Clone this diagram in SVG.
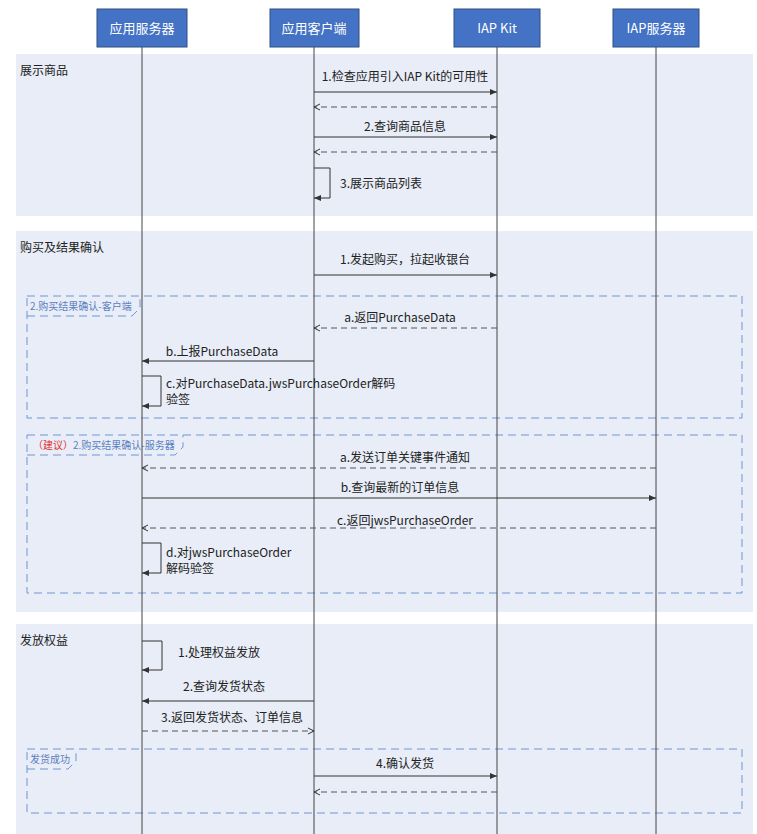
<svg xmlns="http://www.w3.org/2000/svg" width="757" height="834" viewBox="0 0 757 834">
<style>
text{font-family:"Noto Sans CJK SC","Liberation Sans",sans-serif;font-size:12px;fill:#222}
.hd{fill:#4472c4;stroke:#2f4f80;stroke-width:1}
.hdt{fill:#fff;font-size:13px;text-anchor:middle}
.sec{fill:#e8edf7}
.ll{stroke:#444;stroke-width:1}
.m{stroke:#333;stroke-width:1;fill:none;marker-end:url(#a)}
.r{stroke:#555;stroke-width:1;fill:none;stroke-dasharray:6 4;marker-end:url(#o)}
.fr{fill:none;stroke:#6f96d6;stroke-width:1;stroke-dasharray:8 5}
.ft{fill:#5b7fc0;font-size:10px}
.c{text-anchor:middle}
</style>
<defs>
<marker id="a" markerWidth="8" markerHeight="8" refX="7" refY="4" orient="auto" markerUnits="userSpaceOnUse"><path d="M0,1 L7,4 L0,7z" fill="#333"/></marker>
<marker id="o" markerWidth="8" markerHeight="8" refX="7" refY="4" orient="auto" markerUnits="userSpaceOnUse"><path d="M1,1 L7,4 L1,7" fill="none" stroke="#333"/></marker>
</defs>
<rect width="757" height="834" fill="#fff"/>
<rect class="sec" x="16" y="54" width="737" height="162"/>
<rect class="sec" x="16" y="231" width="737" height="381"/>
<rect class="sec" x="16" y="624" width="737" height="210"/>
<text x="20" y="75">展示商品</text>
<text x="20" y="252">购买及结果确认</text>
<text x="20" y="645">发放权益</text>
<g id="frames">
<rect class="fr" x="27" y="296" width="715" height="122"/>
<path class="fr" d="M27,316 H132 L140,308 V296"/>
<text class="ft" x="30" y="310">2.购买结果确认-客户端</text>
<rect class="fr" x="27" y="435" width="715" height="158"/>
<path class="fr" d="M27,455 H175 L183,447 V435"/>
<text class="ft" x="33" y="449"><tspan fill="#e03030">（建议）</tspan>2.购买结果确认-服务器</text>
<rect class="fr" x="27" y="749" width="715" height="64"/>
<path class="fr" d="M27,769 H68 L76,761 V749"/>
<text class="ft" x="30" y="763">发货成功</text>
</g>
<g id="lifelines">
<line class="ll" x1="142" y1="47" x2="142" y2="834"/>
<line class="ll" x1="314" y1="47" x2="314" y2="834"/>
<line class="ll" x1="497" y1="47" x2="497" y2="834"/>
<line class="ll" x1="656" y1="47" x2="656" y2="834"/>
</g>
<g id="n1"><rect class="hd" x="97" y="9" width="90" height="38"/><text class="hdt" x="142" y="33">应用服务器</text></g>
<g id="n2"><rect class="hd" x="270" y="9" width="89" height="38"/><text class="hdt" x="314" y="33">应用客户端</text></g>
<g id="n3"><rect class="hd" x="454" y="9" width="86" height="38"/><text class="hdt" x="497" y="33">IAP Kit</text></g>
<g id="n4"><rect class="hd" x="613" y="9" width="86" height="38"/><text class="hdt" x="656" y="33">IAP服务器</text></g>
<g id="connectors">
<path class="m" d="M314,92 H497"/><text class="c" x="405" y="81">1.检查应用引入IAP Kit的可用性</text>
<path class="r" d="M497,107 H314"/>
<path class="m" d="M314,137 H497"/><text class="c" x="405" y="131">2.查询商品信息</text>
<path class="r" d="M497,152 H314"/>
<path class="m" d="M314,168 H330 V198 H314"/><text x="340" y="188">3.展示商品列表</text>
<path class="m" d="M314,275 H497"/><text class="c" x="405" y="264">1.发起购买，拉起收银台</text>
<path class="r" d="M497,328 H314"/><text class="c" x="400" y="322">a.返回PurchaseData</text>
<path class="m" d="M314,361 H142"/><text class="c" x="222" y="356">b.上报PurchaseData</text>
<path class="m" d="M142,376 H161 V406 H142"/><text x="166" y="388">c.对PurchaseData.jwsPurchaseOrder解码</text><text x="166" y="404">验签</text>
<path class="r" d="M656,468 H142"/><text class="c" x="405" y="462">a.发送订单关键事件通知</text>
<path class="m" d="M142,498 H656"/><text class="c" x="400" y="492">b.查询最新的订单信息</text>
<path class="r" d="M656,528 H142"/><text class="c" x="405" y="525">c.返回jwsPurchaseOrder</text>
<path class="m" d="M142,543 H161 V573 H142"/><text x="166" y="557">d.对jwsPurchaseOrder</text><text x="166" y="573">解码验签</text>
<path class="m" d="M142,641 H162 V670 H142"/><text x="178" y="657">1.处理权益发放</text>
<path class="m" d="M314,701 H142"/><text class="c" x="224" y="691">2.查询发货状态</text>
<path class="r" d="M142,731 H314"/><text class="c" x="232" y="722">3.返回发货状态、订单信息</text>
<path class="m" d="M314,776 H497"/><text class="c" x="405" y="768">4.确认发货</text>
<path class="r" d="M497,792 H314"/>
</g>
</svg>
